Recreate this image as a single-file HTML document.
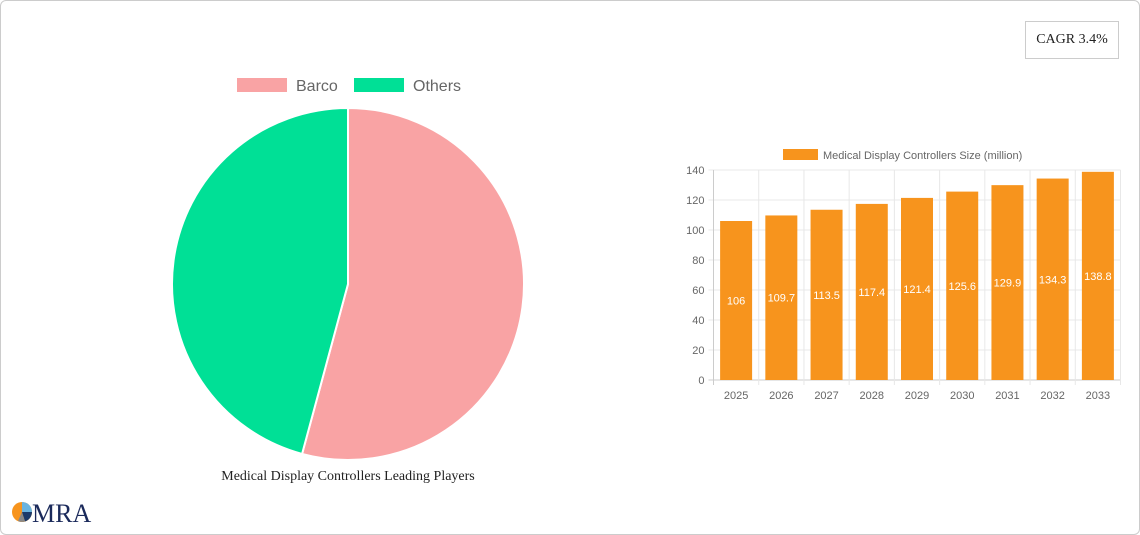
<!DOCTYPE html>
<html><head><meta charset="utf-8"><style>
body{margin:0;width:1140px;height:535px;overflow:hidden;background:#fff;font-family:"Liberation Sans",sans-serif}
#frame{position:absolute;left:0;top:0;width:1138px;height:533px;border:1px solid #ccc;border-radius:6px}
#cagr{position:absolute;left:1025px;top:21px;width:92px;height:36px;border:1px solid #ccc;font-family:"Liberation Serif",serif;font-size:14px;line-height:36px;text-align:center;color:#222}
</style></head><body>
<div id="frame"></div>
<div id="cagr">CAGR 3.4%</div>
<svg id="s" width="1140" height="535" style="position:absolute;left:0;top:0">
<g id="logo">
<circle cx="22" cy="512" r="10" fill="#f7941d"/>
<path d="M22 512 L22 502 A10 10 0 0 1 32 512 Z" fill="#6ab4e0"/>
<path d="M22 512 L32 512 A10 10 0 0 1 25 521.5 Z" fill="#1b3a6b"/>
<path d="M22 512 L25 521.5 A10 10 0 0 1 18 521 Z" fill="#888"/>
<text x="32" y="522" font-family="Liberation Serif,serif" font-size="26" fill="#1b2a5b">MRA</text>
</g>
</svg>
<script>
const pieLabels=["Barco","Others"];
const pieValues=[54.2,45.8];
const pieColors=["#f9a3a4","#00e096"];
const years=["2025","2026","2027","2028","2029","2030","2031","2032","2033"];
const sizes=[106,109.7,113.5,117.4,121.4,125.6,129.9,134.3,138.8];
const yTicks=[0,20,40,60,80,100,120,140];
const NS="http://www.w3.org/2000/svg",s=document.getElementById('s');
function mk(t,a,p){const e=document.createElementNS(NS,t);for(const k in a)e.setAttribute(k,a[k]);(p||s).appendChild(e);return e;}
// pie
const cx=348,cy=284,R=176;let tot=pieValues.reduce((a,b)=>a+b,0),ang=0;
pieValues.forEach((v,i)=>{const a0=ang,a1=ang+v/tot*2*Math.PI;ang=a1;
const x0=cx+R*Math.sin(a0),y0=cy-R*Math.cos(a0),x1=cx+R*Math.sin(a1),y1=cy-R*Math.cos(a1);
const p=mk('path',{d:`M${cx} ${cy} L${x0} ${y0} A${R} ${R} 0 ${a1-a0>Math.PI?1:0} 1 ${x1} ${y1} Z`,fill:pieColors[i],stroke:'#fff','stroke-width':2});

});
let lx=237;pieLabels.forEach((l,i)=>{const g=mk('g',{});


mk('rect',{x:lx,y:78,width:50,height:14,fill:pieColors[i]},g);
const t=mk('text',{x:lx+59,y:91,'font-size':16,fill:'#666'},g);t.textContent=l;lx+=117;});
const pt=mk('text',{x:348,y:480,'text-anchor':'middle','font-size':14,'font-family':'Liberation Serif,serif',fill:'#222'});pt.textContent="Medical Display Controllers Leading Players";


// bar
const X0=713.5,X1=1120.5,Y0=380,Y1=170,maxV=140;const bw=(X1-X0)/years.length;
const yS=v=>Y0-(v/maxV)*(Y0-Y1);
yTicks.forEach(v=>{mk('line',{x1:X0-5,x2:X1,y1:yS(v),y2:yS(v),stroke:v==0?'#ccc':'#e8e8e8'});
const t=mk('text',{x:X0-9,y:yS(v)+4,'text-anchor':'end','font-size':11,fill:'#666'});t.textContent=v;

});
for(let i=0;i<=years.length;i++)mk('line',{x1:X0+i*bw,x2:X0+i*bw,y1:Y1,y2:Y0+5,stroke:i==0?'#ccc':'#e8e8e8'});
years.forEach((y,i)=>{const c=X0+(i+0.5)*bw;
const r=mk('rect',{x:c-16,y:yS(sizes[i]),width:32,height:Y0-yS(sizes[i]),fill:'#f7941d'});


const v=mk('text',{x:c,y:(yS(sizes[i])+Y0)/2+4,'text-anchor':'middle','font-size':11,fill:'#fff'});v.textContent=sizes[i];


const t=mk('text',{x:c,y:399,'text-anchor':'middle','font-size':11,fill:'#666'});t.textContent=y;

});
const lg=mk('g',{});


mk('rect',{x:783,y:149,width:35,height:11,fill:'#f7941d'},lg);
const lt=mk('text',{x:823,y:159,'font-size':11,fill:'#666'},lg);lt.textContent="Medical Display Controllers Size (million)";
</script>
</body></html>
